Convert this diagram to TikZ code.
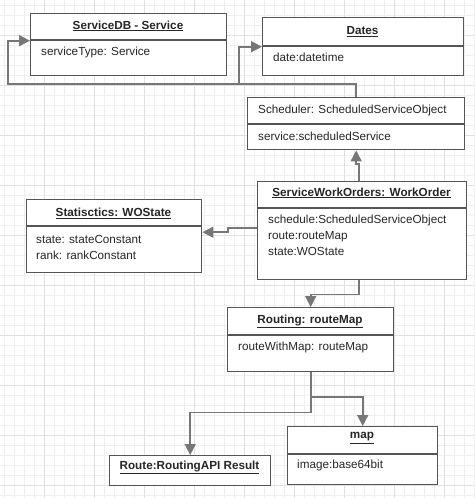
\documentclass[tikz,border=0pt]{standalone}
\usepackage{fontspec}
\setmainfont{Liberation Sans}
\usetikzlibrary{arrows.meta,positioning}

\definecolor{boxline}{HTML}{555555}
\definecolor{linkgray}{HTML}{777777}
\definecolor{minorgrid}{HTML}{EFEFEF}
\definecolor{majorgrid}{HTML}{E0E0E0}

\begin{document}
\begin{tikzpicture}[
    x=1pt, y=-1pt,
    font=\fontsize{11.7}{16}\selectfont,
    class node/.style={rectangle,draw=boxline,fill=white,line width=1.4pt,anchor=north west,inner sep=0pt},
    divider/.style={draw=boxline,line width=1.4pt},
    title text/.style={font=\fontsize{11.7}{16}\selectfont\bfseries,inner sep=0pt,text=black!85},
    attr text/.style={anchor=west,inner sep=0pt,align=left,text=black!85},
    link/.style={draw=linkgray,line width=1.7pt,-{Triangle[width=11pt,length=11pt]}}
]
\useasboundingbox (0,0) rectangle (474,498);

% Background grid
\foreach \gx in {4,14,...,474} \draw[minorgrid,line width=0.6pt] (\gx,0) -- (\gx,498);
\foreach \gy in {5,15,...,495} \draw[minorgrid,line width=0.6pt] (0,\gy) -- (474,\gy);
\foreach \gx in {44,94,...,474} \draw[majorgrid,line width=0.6pt] (\gx,0) -- (\gx,498);
\foreach \gy in {35,85,...,495} \draw[majorgrid,line width=0.6pt] (0,\gy) -- (474,\gy);

% ServiceDB
\node[class node, minimum width=196pt, minimum height=62pt] (servicedb) at (30,13) {};
\draw[divider] (servicedb.west |- 0,40) -- (servicedb.east |- 0,40);
\node[title text] (servicedbtitle) at (128,26) {\underline{ServiceDB - Service}};
\node[attr text] (servicedbattr) at (41,52) {serviceType: Service};

% Dates
\node[class node, minimum width=201pt, minimum height=58pt] (dates) at (262,17) {};
\draw[divider] (dates.west |- 0,46) -- (dates.east |- 0,46);
\node[title text] (datestitle) at (362.5,32) {\underline{Dates}};
\node[attr text] (datesattr) at (273,57) {date:datetime};

% Scheduler
\node[class node, minimum width=217pt, minimum height=52pt] (scheduler) at (247,97) {};
\draw[divider] (scheduler.west |- 0,124) -- (scheduler.east |- 0,124);
\node[attr text] (schedulertitle) at (258,110) {Scheduler: ScheduledServiceObject};
\node[attr text] (schedulerattr) at (258,136) {service:scheduledService};

% ServiceWorkOrders
\node[class node, minimum width=209pt, minimum height=98pt] (swo) at (257,181) {};
\draw[divider] (swo.west |- 0,208) -- (swo.east |- 0,208);
\node[title text] (swotitle) at (361.5,193) {\underline{ServiceWorkOrders: WorkOrder}};
\node[attr text] (swoattr) at (268,235) {schedule:ScheduledServiceObject\\route:routeMap\\state:WOState};

% Statistics
\node[class node, minimum width=175pt, minimum height=73pt] (stats) at (26,199) {};
\draw[divider] (stats.west |- 0,226) -- (stats.east |- 0,226);
\node[title text] (statstitle) at (113.5,213) {\underline{Statisctics: WOState}};
\node[attr text] (statsattr) at (36,247) {state: stateConstant\\rank: rankConstant};

% Routing
\node[class node, minimum width=166pt, minimum height=64pt] (routing) at (227,307) {};
\draw[divider] (routing.west |- 0,335) -- (routing.east |- 0,335);
\node[title text] (routingtitle) at (310,321) {\underline{Routing: routeMap}};
\node[attr text] (routingattr) at (238,347) {routeWithMap: routeMap};

% Route
\node[class node, minimum width=161pt, minimum height=30pt] (route) at (109,455) {};
\node[title text] (routetitle) at (189.5,467) {\underline{Route:RoutingAPI Result}};

% map
\node[class node, minimum width=150pt, minimum height=58pt] (map) at (287,426) {};
\draw[divider] (map.west |- 0,454) -- (map.east |- 0,454);
\node[title text] (maptitle) at (362,438) {\underline{map}};
\node[attr text] (mapattr) at (297,465) {image:base64bit};

% Links
\coordinate (leftrail) at (8,84);
\coordinate (datesjoint) at (239,84);
\coordinate (mapjoint) at (310,397);
\draw[link] (scheduler.north) |- (leftrail) |- ([yshift=4pt]servicedb.west);
\draw[link] (datesjoint) |- (dates.west);
\draw[link] ([xshift=-3pt]swo.south) -- ++(0,14) -| (routing.north);
\draw[link] ([xshift=-3pt]swo.north) -- ++(0,-17) -| (scheduler.south);
\draw[link] ([yshift=3pt]swo.west) -- ++(-29,0) |- ([yshift=4pt]stats.east);
\draw[link] (routing.south) -- ++(0,40) -| (route.north);
\draw[link] (mapjoint) -| (map.north);

\end{tikzpicture}
\end{document}
